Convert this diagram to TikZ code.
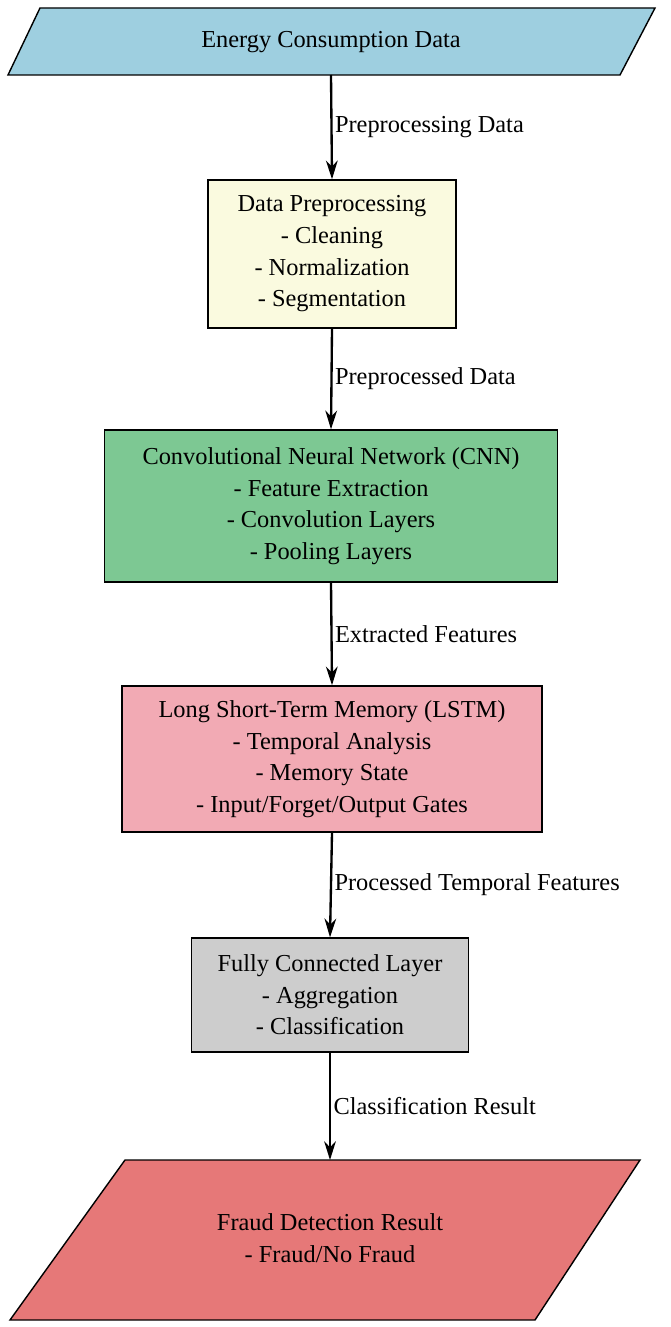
\documentclass[tikz,border=0pt]{standalone}
\usepackage{fontspec}
\setmainfont{Liberation Serif}
\usetikzlibrary{arrows.meta}
\definecolor{Input}{HTML}{9ECFE0}
\definecolor{Prep}{HTML}{FAFADF}
\definecolor{Cnn}{HTML}{7DC893}
\definecolor{Lstm}{HTML}{F2AAB4}
\definecolor{Dense}{HTML}{CDCDCD}
\definecolor{Result}{HTML}{E67878}
\begin{document}
\begin{tikzpicture}[x=0.03cm, y=-0.03cm,
  every node/.style={font=\fontsize{20.8}{27}\selectfont},
  box/.style={draw, line width=1.2pt, align=center, inner sep=0pt},
  flow/.style={-{Stealth[length=16pt,width=10pt]}, line width=2pt},
  lab/.style={right, inner sep=2pt}]
 \useasboundingbox (0,0) rectangle (670,1327);

 %%%%%%%%%% Input data %%%%%%%%%%
 \coordinate (in1) at (40,8);
 \coordinate (in2) at (655,8);
 \coordinate (in3) at (620,75);
 \coordinate (in4) at (8,75);
 \filldraw [fill=Input, line width=1.2pt] (in1) -- (in2) -- (in3) -- (in4) -- cycle;
 \node (input) at (331,42) {Energy Consumption Data};
 \coordinate (inout) at (331,75);

 %%%%%%%%%% Stages %%%%%%%%%%
 \node[box, fill=Prep, minimum width=248*0.03cm, minimum height=148*0.03cm] (prep) at (332,254)
   {Data Preprocessing\\- Cleaning\\- Normalization\\- Segmentation};
 \node[box, fill=Cnn, minimum width=453*0.03cm, minimum height=152*0.03cm] (cnn) at (331,506)
   {Convolutional Neural Network (CNN)\\- Feature Extraction\\- Convolution Layers\\- Pooling Layers};
 \node[box, fill=Lstm, minimum width=420*0.03cm, minimum height=146*0.03cm] (lstm) at (332,759)
   {Long Short-Term Memory (LSTM)\\- Temporal Analysis\\- Memory State\\- Input/Forget/Output Gates};
 \node[box, fill=Dense, minimum width=277*0.03cm, minimum height=114*0.03cm] (fc) at (330,995)
   {Fully Connected Layer\\- Aggregation\\- Classification};

 %%%%%%%%%% Result %%%%%%%%%%
 \coordinate (out1) at (125,1160);
 \coordinate (out2) at (640,1160);
 \coordinate (out3) at (535,1320);
 \coordinate (out4) at (10,1320);
 \filldraw [fill=Result, line width=1.2pt] (out1) -- (out2) -- (out3) -- (out4) -- cycle;
 \node[align=center] (result) at (330,1238) {Fraud Detection Result\\- Fraud/No Fraud};
 \coordinate (outin) at (330,1160);

 %%%%%%%%%% Arrows %%%%%%%%%%
 \draw[flow] (inout) -- (prep.north) node[lab, midway] {Preprocessing Data};
 \draw[flow] (prep.south) -- (cnn.north) node[lab, midway] {Preprocessed Data};
 \draw[flow] (cnn.south) -- (lstm.north) node[lab, midway] {Extracted Features};
 \draw[flow] (lstm.south) -- (fc.north) node[lab, midway] {Processed Temporal Features};
 \draw[flow] (fc.south) -- (outin) node[lab, midway] {Classification Result};
\end{tikzpicture}
\end{document}
